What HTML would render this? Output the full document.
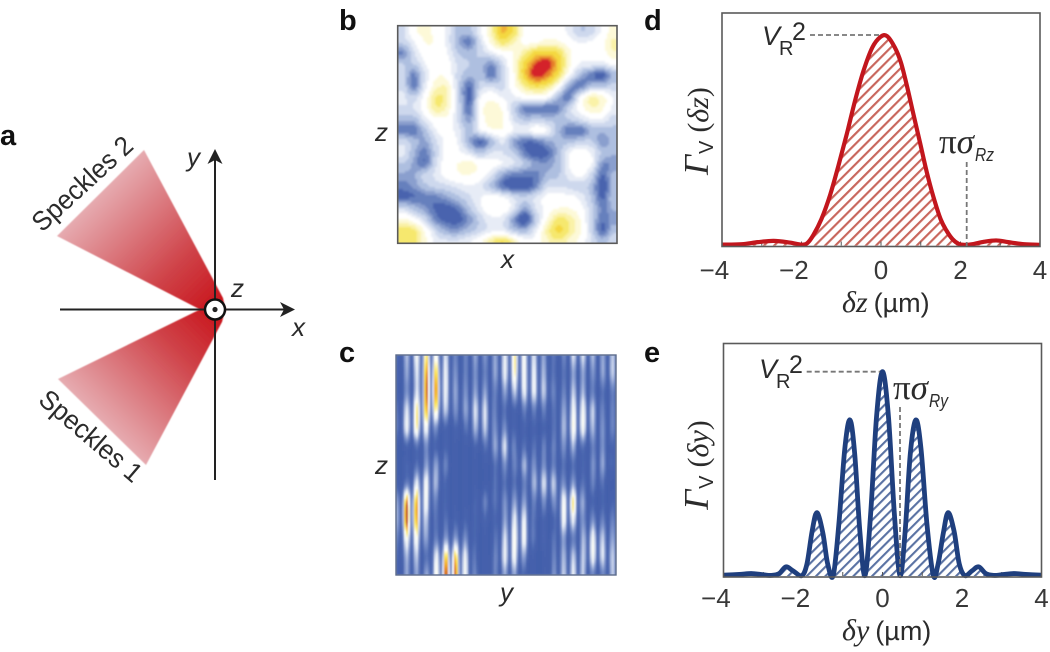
<!DOCTYPE html>
<html lang="en">
<head>
<meta charset="utf-8">
<title>Speckle correlation figure</title>
<style>
html,body{margin:0;padding:0;background:#fff;width:1050px;height:652px;overflow:hidden}
svg{display:block}
text{font-family:"Liberation Sans",sans-serif;fill:#2b2b2b}
.panel{font-weight:bold;font-size:29px;fill:#111}
.it{font-style:italic}
.serif{font-family:"Liberation Serif",serif}
.tick{font-size:26px;fill:#383838}
.dash{stroke:#777;stroke-width:1.8;stroke-dasharray:5 3;fill:none}
</style>
</head>
<body>
<svg id="fig" width="1050" height="652" viewBox="0 0 1050 652" xmlns="http://www.w3.org/2000/svg">
  <defs>
    <linearGradient id="wedge2" gradientUnits="userSpaceOnUse" x1="215" y1="309" x2="100" y2="193">
      <stop offset="0" stop-color="#c9151c"/><stop offset="0.35" stop-color="#cf4248"/><stop offset="1" stop-color="#e6abb0"/>
    </linearGradient>
    <linearGradient id="wedge1" gradientUnits="userSpaceOnUse" x1="215" y1="309" x2="102" y2="422">
      <stop offset="0" stop-color="#c9151c"/><stop offset="0.35" stop-color="#cf4248"/><stop offset="1" stop-color="#e6abb0"/>
    </linearGradient>
    <pattern id="hatchRed" patternUnits="userSpaceOnUse" width="7.2" height="7.2" patternTransform="rotate(45)">
      <line x1="1" y1="0" x2="1" y2="7.2" stroke="#c8665c" stroke-width="2.3"/>
    </pattern>
    <pattern id="hatchBlue" patternUnits="userSpaceOnUse" width="6.6" height="6.6" patternTransform="rotate(45)">
      <line x1="1" y1="0" x2="1" y2="6.6" stroke="#5a72a3" stroke-width="2.2"/>
    </pattern>
    <filter id="soft" x="-2%" y="-2%" width="104%" height="104%"><feGaussianBlur stdDeviation="1"/></filter>
    <filter id="softC" x="-2%" y="-2%" width="104%" height="104%"><feGaussianBlur stdDeviation="0.9"/></filter>
    <filter id="softEdge" x="-5%" y="-5%" width="110%" height="110%"><feGaussianBlur stdDeviation="0.6"/></filter>
    <clipPath id="clipB"><rect x="398" y="26" width="219" height="217"/></clipPath>
    <clipPath id="clipC"><rect x="396" y="355" width="220" height="220"/></clipPath>
  </defs>

  <!-- Panel a -->
  <g>
    <text class="panel" x="0" y="145">a</text>
    <polygon points="144,150 223,298 226,312 205,312 57,236" fill="url(#wedge2)" filter="url(#softEdge)"/>
    <polygon points="58,379 205,307 226,307 222,322 146,465" fill="url(#wedge1)" filter="url(#softEdge)"/>
    <line x1="60" y1="309.5" x2="285" y2="309.5" stroke="#222" stroke-width="2"/>
    <polygon points="295,309.5 280,302 284,309.5 280,317" fill="#222"/>
    <line x1="215" y1="160" x2="215" y2="480" stroke="#222" stroke-width="2"/>
    <polygon points="215,149 207.5,164 215,160 222.5,164" fill="#222"/>
    <circle cx="215" cy="309.5" r="10" fill="#fff" stroke="#111" stroke-width="2.5"/>
    <circle cx="215" cy="309.5" r="2.6" fill="#222"/>
    <text class="it" x="187" y="166" font-size="26">y</text>
    <text class="it" x="231" y="297" font-size="26">z</text>
    <text class="it" x="292" y="336" font-size="26">x</text>
    <text transform="translate(42,233) rotate(-42.5)" font-size="27" textLength="126" lengthAdjust="spacingAndGlyphs">Speckles 2</text>
    <text transform="translate(37,402) rotate(40.5)" font-size="27" textLength="126" lengthAdjust="spacingAndGlyphs">Speckles 1</text>
  </g>

  <!-- Panel b -->
  <g>
    <text class="panel" x="339" y="30">b</text>
    <g clip-path="url(#clipB)"><g id="heatB" filter="url(#soft)"></g></g>
    <rect x="397.7" y="25.7" width="219.3" height="217.6" fill="none" stroke="#5a5a5a" stroke-width="1.6"/>
    <text class="it" x="375" y="141" font-size="26">z</text>
    <text class="it" x="501" y="268" font-size="26">x</text>
  </g>

  <!-- Panel c -->
  <g>
    <text class="panel" x="339" y="362">c</text>
    <g clip-path="url(#clipC)"><g id="heatC" filter="url(#softC)"></g></g>
    <rect x="396" y="355" width="220" height="220" fill="none" stroke="#5a6a8a" stroke-width="1.4"/>
    <text class="it" x="375" y="474" font-size="26">z</text>
    <text class="it" x="500" y="601" font-size="26">y</text>
  </g>

  <!-- Panel d -->
  <g>
    <text class="panel" x="644" y="30">d</text>
    <g id="chartD"></g>
    <rect x="722" y="13" width="318" height="233.5" fill="none" stroke="#5a5a5a" stroke-width="1.6"/>
    <line class="dash" x1="810" y1="35" x2="880" y2="35"/>
    <line class="dash" x1="966.7" y1="162" x2="966.7" y2="246"/>
    <text x="762" y="45" font-size="27"><tspan class="it">V</tspan></text>
    <text x="779" y="55" font-size="20">R</text>
    <text x="792" y="40" font-size="25">2</text>
    <text x="939" y="153" font-size="35"><tspan class="serif">π</tspan><tspan class="serif it">σ</tspan></text>
    <text class="it" x="975" y="161" font-size="18" textLength="19" lengthAdjust="spacingAndGlyphs">Rz</text>
    <text transform="translate(708,131) rotate(-90)" text-anchor="middle" font-size="30"><tspan class="serif it" font-size="35">Γ</tspan><tspan font-size="20" dy="5" dx="1">V</tspan><tspan dy="-5" dx="8" class="serif">(</tspan><tspan class="serif it">δz</tspan><tspan class="serif">)</tspan></text>
    <text x="842" y="312" font-size="27"><tspan class="serif it" font-size="30">δz</tspan><tspan dx="6">(µm)</tspan></text>
  </g>

  <!-- Panel e -->
  <g>
    <text class="panel" x="644" y="362">e</text>
    <g id="chartE"></g>
    <rect x="723.5" y="343.5" width="318" height="233.5" fill="none" stroke="#5a5a5a" stroke-width="1.6"/>
    <line class="dash" x1="806.7" y1="371.7" x2="880" y2="371.7"/>
    <line class="dash" x1="900" y1="407" x2="900" y2="577"/>
    <text x="759" y="378" font-size="27"><tspan class="it">V</tspan></text>
    <text x="776" y="388" font-size="20">R</text>
    <text x="789" y="373" font-size="25">2</text>
    <text x="893" y="399" font-size="35"><tspan class="serif">π</tspan><tspan class="serif it">σ</tspan></text>
    <text class="it" x="929" y="407" font-size="18" textLength="19" lengthAdjust="spacingAndGlyphs">Ry</text>
    <text transform="translate(708,465) rotate(-90)" text-anchor="middle" font-size="30"><tspan class="serif it" font-size="35">Γ</tspan><tspan font-size="20" dy="5" dx="1">V</tspan><tspan dy="-5" dx="8" class="serif">(</tspan><tspan class="serif it">δy</tspan><tspan class="serif">)</tspan></text>
    <text x="842" y="640" font-size="27"><tspan class="serif it" font-size="30">δy</tspan><tspan dx="6">(µm)</tspan></text>
  </g>
</svg>

<script>
/* ---------- chart data ---------- */
const tickValues = [-4, -2, 0, 2, 4];
const tickLabels = ["−4", "−2", "0", "2", "4"];
const minorTicks = [-3, -2, -1, 0, 1, 2, 3];

const deltaZ = [-4,-3.5,-3.1,-2.7,-2.3,-2.0,-1.85,-1.7,-1.5,-1.28,-1.07,-0.86,-0.65,-0.44,-0.22,-0.02,0.15,0.35,0.5,0.65,0.82,0.98,1.15,1.32,1.5,1.65,1.8,1.95,2.1,2.3,2.6,2.9,3.2,3.6,4];
const gammaZ = [0.004,0.006,0.016,0.022,0.014,0.004,0.012,0.05,0.125,0.24,0.38,0.53,0.69,0.83,0.94,0.99,0.995,0.94,0.87,0.76,0.62,0.49,0.35,0.23,0.125,0.07,0.03,0.008,0.003,0.006,0.018,0.024,0.016,0.006,0.003];

const deltaY = [-4,-3.6,-3.3,-3,-2.8,-2.6,-2.43,-2.25,-2.03,-1.9,-1.77,-1.65,-1.5,-1.38,-1.24,-1.1,-0.95,-0.82,-0.7,-0.57,-0.44,-0.3,-0.15,0,0.15,0.3,0.44,0.57,0.7,0.84,0.97,1.12,1.28,1.4,1.53,1.65,1.8,1.93,2.07,2.25,2.42,2.6,2.8,3,3.3,3.6,4];
const gammaY = [0.004,0.008,0.012,0.006,0.003,0.012,0.045,0.025,0.002,0.06,0.22,0.31,0.21,0.06,0.002,0.25,0.62,0.764,0.6,0.22,0.002,0.3,0.78,1.0,0.78,0.3,0.002,0.22,0.6,0.764,0.62,0.25,0.002,0.06,0.21,0.31,0.22,0.06,0.002,0.025,0.045,0.012,0.003,0.006,0.012,0.008,0.004];

/* Speckle field for panel b: rows top to bottom, columns left to right */
const fieldB = [
[-0.8,0.2,0.6,0.2,-0.4,-1.4,-1.3,-0.3,1.0,2.5,1.8,0.3,0,0,-0.1,-0.4,-1.2,-1.0,-0.1,0.6],
[-1.0,-0.3,0.4,0.3,-0.4,-1.6,-2.3,-0.8,0.6,1.6,1.0,0.2,0.3,0.6,0.5,0,-0.3,-0.2,0.2,1.0],
[-2.2,-0.8,0.1,0.3,-0.2,-1.2,-1.5,-1.0,-0.4,0.1,0.4,1.2,2.0,2.2,1.8,0.6,-0.1,-0.1,0.1,0.8],
[-1.2,-1.2,-0.3,0.2,0.0,-0.8,-1.2,-1.4,-2.0,-0.8,0.5,2.0,3.2,3.6,2.3,0.6,-0.3,-0.4,-0.5,-0.1],
[-1.0,-2.2,-0.7,0.3,0.2,-0.9,-1.6,-1.3,-2.4,-1.0,0.3,2.2,3.5,3.0,1.8,0,-1.5,-2.3,-2.7,-1.5],
[-0.8,-2.3,-0.5,0.7,0.8,-1.0,-2.5,-1.0,-0.8,-0.9,0.2,1.2,1.8,1.5,0.3,-1.8,-2.3,-1.4,-1.3,-1.0],
[-0.6,-1.0,0.0,1.3,1.0,-0.9,-2.6,-0.3,0.2,-0.3,-0.4,0,0.1,-0.1,-1.5,-2.3,-0.2,0.9,0.6,-0.3],
[-0.8,-0.7,0.1,1.2,0.8,-0.8,-2.4,0.0,0.8,0.3,-1.0,-2.2,-2.3,-2.4,-2.2,-1.0,0,0.8,0.5,-0.4],
[-1.6,-1.5,-0.5,0.2,0.2,-0.8,-1.9,-0.1,0.8,0.5,-0.7,-1.3,-1.2,-1.3,-1.4,-1.2,-0.8,-0.3,-0.3,-1.0],
[-2.2,-2.4,-1.4,-0.3,0,-0.5,-1.4,-0.4,0.2,0.3,-0.3,-0.5,0,-0.3,-1.5,-2.4,-2.4,-1.6,-1.5,-1.3],
[-0.9,-1.4,-1.8,-0.8,-0.1,-0.3,-1.7,-2.6,-1.5,-0.6,-1.8,-2.4,-2.4,-1.8,-1.6,-1.4,-1.1,-1.1,-2.0,-1.5],
[-0.5,-1.6,-2.3,-1.0,0,-0.1,-0.6,-1.3,-0.7,-0.7,-1.2,-2.3,-2.9,-2.6,-1.5,-0.3,0.1,-0.3,-1.3,-1.6],
[-1.2,-1.8,-2.4,-0.8,0.1,0.4,0.6,0.2,0,-0.3,-0.7,-1.3,-1.9,-2.0,-1.4,-0.2,0.2,-0.2,-2.0,-2.0],
[-1.8,-1.8,-1.0,-0.6,0,0.3,0.4,0.1,-0.6,-1.8,-2.3,-2.4,-2.3,-1.6,-1.3,-0.5,-0.1,-0.9,-2.5,-1.5],
[-2.3,-2.0,-1.4,-1.0,-0.8,-0.5,-0.3,-0.5,-1.4,-2.4,-2.9,-2.9,-2.2,-0.9,-0.8,-0.8,-1.0,-1.4,-2.9,-1.4],
[-2.6,-2.5,-2.3,-2.2,-1.8,-1.3,-0.8,-0.3,0,-0.2,-0.8,-1.2,-0.7,-0.1,0,-0.1,-0.4,-1.3,-2.6,-1.3],
[-0.9,-1.4,-2.0,-2.6,-2.7,-2.3,-1.3,-0.4,0.2,0.2,-0.6,-1.8,-0.7,0,0.4,0.4,0,-1.0,-2.2,-1.6],
[0.5,0,-0.9,-2.2,-2.7,-2.7,-2.0,-1.0,-0.4,-0.5,-1.9,-3.0,-1.2,0.4,1.4,1.2,0.4,-1.0,-2.4,-1.9],
[1.5,1.4,0.3,-1.0,-1.8,-1.9,-1.4,-0.9,-0.4,-0.4,-1.2,-1.5,-0.4,1.0,1.9,1.3,0.5,-0.9,-2.6,-1.3],
[1.5,1.6,0.6,-0.4,-0.6,-0.6,-0.3,0.2,1.2,1.8,1.0,0,0,0.8,1.2,0.8,0.2,-0.7,-1.4,-0.8]
];

/* Fringe amplitude for panel c: rows top to bottom, one column per fringe */
const fringesC = [
[0.35,0.55,0.75,0.60,0.45,0.20,0.20,0.30,0.25,0.30,0.50,0.70,0.55,0.45,0.30,0.15,0.20,0.45,0.45,0.35,0.30,0.40],
[0.30,0.45,0.90,0.80,0.50,0.25,0.20,0.25,0.20,0.30,0.50,0.65,0.55,0.50,0.35,0.15,0.15,0.30,0.30,0.25,0.30,0.40],
[0.25,0.45,0.95,0.90,0.50,0.30,0.25,0.30,0.30,0.20,0.30,0.40,0.50,0.50,0.40,0.20,0.20,0.40,0.35,0.20,0.15,0.20],
[0.45,0.70,0.85,0.70,0.40,0.25,0.30,0.45,0.45,0.20,0.15,0.10,0.20,0.20,0.20,0.15,0.30,0.55,0.55,0.40,0.20,0.20],
[0.50,0.65,0.55,0.25,0.10,0.10,0.15,0.35,0.40,0.25,0.25,0.10,0.10,0.10,0.10,0.15,0.35,0.60,0.55,0.35,0.25,0.20],
[0.10,0.15,0.25,0.10,0.10,0.05,0.05,0.10,0.15,0.30,0.45,0.20,0.15,0.15,0.20,0.20,0.25,0.35,0.15,0.20,0.25,0.10],
[0.10,0.15,0.30,0.30,0.20,0.05,0.05,0.05,0.05,0.15,0.25,0.20,0.35,0.25,0.25,0.20,0.15,0.15,0.10,0.25,0.30,0.10],
[0.20,0.50,0.55,0.35,0.10,0.05,0.05,0.05,0.05,0.15,0.15,0.15,0.20,0.35,0.45,0.40,0.25,0.30,0.15,0.20,0.15,0.05],
[0.90,0.85,0.55,0.20,0.10,0.05,0.05,0.10,0.20,0.15,0.25,0.30,0.30,0.20,0.25,0.25,0.55,0.70,0.30,0.10,0.10,0.10],
[1.00,0.85,0.40,0.15,0.15,0.10,0.10,0.10,0.10,0.10,0.30,0.50,0.50,0.15,0.10,0.10,0.55,0.50,0.25,0.25,0.20,0.20],
[0.60,0.60,0.30,0.20,0.30,0.30,0.25,0.10,0.05,0.15,0.45,0.60,0.55,0.15,0.10,0.15,0.30,0.20,0.35,0.55,0.40,0.30],
[0.35,0.40,0.15,0.50,0.80,0.80,0.50,0.15,0.05,0.20,0.50,0.55,0.30,0.05,0.05,0.20,0.35,0.40,0.40,0.55,0.45,0.40],
[0.30,0.30,0.30,0.60,1.00,0.95,0.55,0.20,0.05,0.20,0.30,0.30,0.10,0.05,0.05,0.25,0.40,0.50,0.40,0.20,0.20,0.40]
];

/* ---------- axis functions and helpers ---------- */
const NS = "http://www.w3.org/2000/svg";
function mk(tag, parent) { const n = document.createElementNS(NS, tag); parent.appendChild(n); return n; }

function smoothPath(pts) {
  let d = "M" + pts[0][0].toFixed(2) + "," + pts[0][1].toFixed(2);
  for (let i = 0; i < pts.length - 1; i++) {
    const p0 = pts[Math.max(i - 1, 0)], p1 = pts[i], p2 = pts[i + 1], p3 = pts[Math.min(i + 2, pts.length - 1)];
    const c1 = [p1[0] + (p2[0] - p0[0]) / 6, p1[1] + (p2[1] - p0[1]) / 6];
    const c2 = [p2[0] - (p3[0] - p1[0]) / 6, p2[1] - (p3[1] - p1[1]) / 6];
    d += "C" + c1[0].toFixed(2) + "," + c1[1].toFixed(2) + " " + c2[0].toFixed(2) + "," + c2[1].toFixed(2) + " " + p2[0].toFixed(2) + "," + p2[1].toFixed(2);
  }
  return d;
}

function drawProfile(root, xs, ys, left, right, base, top, color, width, hatch, labelY, key) {
  const sx = v => left + (v + 4) / 8 * (right - left);
  const sy = v => base - v * (base - top);
  const pts = xs.map((x, i) => [sx(x), sy(ys[i])]);
  const line = smoothPath(pts);

  const area = mk("path", root);
  area.setAttribute("d", line + "L" + sx(xs[xs.length - 1]) + "," + base + "L" + sx(xs[0]) + "," + base + "Z");
  area.setAttribute("fill", "url(#" + hatch + ")");
  
  

  minorTicks.forEach(t => {
    const tk = mk("line", root);
    tk.setAttribute("x1", sx(t)); tk.setAttribute("x2", sx(t));
    tk.setAttribute("y1", base - 4); tk.setAttribute("y2", base);
    tk.setAttribute("stroke", "#555"); tk.setAttribute("stroke-width", "1");
    
    
  });

  const stroke = mk("path", root);
  stroke.setAttribute("d", line);
  stroke.setAttribute("fill", "none");
  stroke.setAttribute("stroke", color);
  stroke.setAttribute("stroke-width", width);
  stroke.setAttribute("stroke-linejoin", "round");
  
  

  tickValues.forEach((t, i) => {
    const lb = mk("text", root);
    lb.textContent = tickLabels[i];
    lb.setAttribute("class", "tick");
    lb.setAttribute("y", labelY);
    lb.setAttribute("x", sx(t) + 7.2);
    lb.setAttribute("text-anchor", "end");
    
    
  });
}

drawProfile(document.getElementById("chartD"), deltaZ, gammaZ, 722, 1040, 245.5, 35, "#c2161d", 4.2, "hatchRed", 279, "chart-d");
drawProfile(document.getElementById("chartE"), deltaY, gammaY, 723.5, 1041.5, 576, 371.7, "#1f3f7e", 4.8, "hatchBlue", 607, "chart-e");

/* ---------- heatmap b ---------- */
const bandEdges = [-2.5,-2.1,-1.7,-1.2,-0.7,-0.25,0.4,0.9,1.3,1.8,2.4,2.8,3.2];
const bandColors = ["#4a64ae","#6680bd","#8a9fce","#aebfe0","#cdd8ed","#e7ecf6","#ffffff","#fdf9d8","#faf2a8","#f6e86e","#f4d840","#f0b038","#e57d2c","#d4232c"];

function cr(a, b, c, d, t) {
  return 0.5 * (2 * b + (c - a) * t + (2 * a - 5 * b + 4 * c - d) * t * t + (3 * b - a - 3 * c + d) * t * t * t);
}
function sampleGrid(g, u, v) {
  const R = g.length, C = g[0].length;
  const fy = Math.min(Math.max(v, 0), R - 1.001), fx = Math.min(Math.max(u, 0), C - 1.001);
  const r = Math.floor(fy), c = Math.floor(fx), ty = fy - r, tx = fx - c;
  const row = i => {
    const q = g[Math.min(Math.max(i, 0), R - 1)];
    return cr(q[Math.max(c - 1, 0)], q[c], q[Math.min(c + 1, C - 1)], q[Math.min(c + 2, C - 1)], tx);
  };
  return cr(row(r - 1), row(r), row(r + 1), row(r + 2), ty);
}
function bandColor(v) {
  let i = 0;
  while (i < bandEdges.length && v >= bandEdges[i]) i++;
  return bandColors[i];
}

const CELL = 2;
const heatB = document.getElementById("heatB");
{
  const left = 397, top = 25, n = 111;
  const cols = fieldB[0].length, rows = fieldB.length;
  for (let j = 0; j < n; j++) {
    for (let i = 0; i < n; i++) {
      const u = (i + 0.5) / n * cols - 0.5, v = (j + 0.5) / n * rows - 0.5;
      const rc = mk("rect", heatB);
      rc.setAttribute("x", left + i * CELL);
      rc.setAttribute("y", top + j * CELL);
      rc.setAttribute("width", CELL);
      rc.setAttribute("height", CELL);
      rc.setAttribute("fill", bandColor(sampleGrid(fieldB, u, v)));
      
      
    }
  }
}

/* ---------- heatmap c ---------- */
const rampStops = [0, 0.1, 0.28, 0.5, 0.64, 0.8, 0.92, 1.05];
const rampColors = [[66,94,170],[72,100,174],[130,152,206],[232,238,248],[255,255,245],[250,226,90],[240,170,40],[190,60,30]];
function rampColor(v) {
  v = Math.max(0, Math.min(1.05, v));
  let i = 0;
  while (i < rampStops.length - 2 && v > rampStops[i + 1]) i++;
  const t = (v - rampStops[i]) / (rampStops[i + 1] - rampStops[i]);
  const a = rampColors[i], b = rampColors[i + 1];
  return "rgb(" + a.map((x, k) => Math.round(x + (b[k] - x) * t)).join(",") + ")";
}

const heatC = document.getElementById("heatC");
{
  const left = 396, top = 355, n = 110;
  const firstFringe = 10.7, fringePitch = 9.8;
  const rowsC = fringesC.length;
  for (let j = 0; j < n; j++) {
    for (let i = 0; i < n; i++) {
      const px = (i + 0.5) * CELL, py = (j + 0.5) * CELL;
      const u = (px - firstFringe) / fringePitch;
      const v = py / (n * CELL) * (rowsC - 1);
      let amp = Math.max(0, sampleGrid(fringesC, u, v));
      if (u < -0.5) amp *= 0.3;
      const fr = Math.pow(Math.cos(Math.PI * u), 2);
      const rc = mk("rect", heatC);
      rc.setAttribute("x", left + i * CELL);
      rc.setAttribute("y", top + j * CELL);
      rc.setAttribute("width", CELL);
      rc.setAttribute("height", CELL);
      rc.setAttribute("fill", rampColor(amp * 1.08 * (0.2 + 0.8 * fr)));
      
      
    }
  }
}
</script>
</body>
</html>
